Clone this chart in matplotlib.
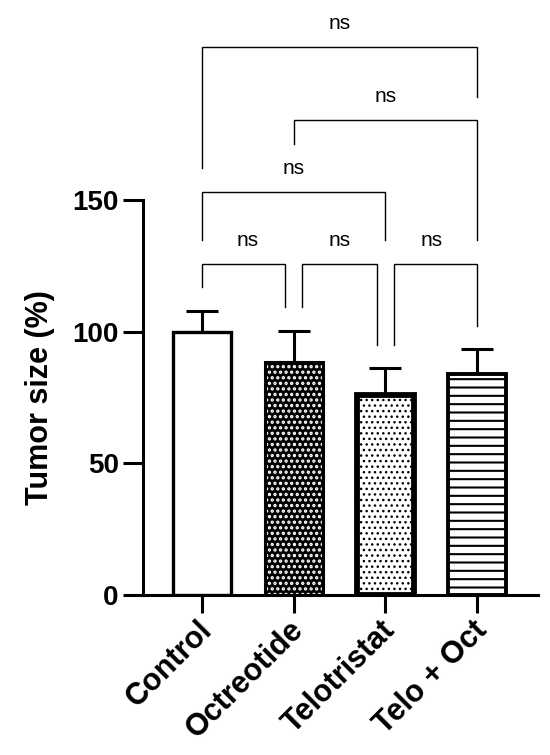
import matplotlib
matplotlib.use("Agg")
import matplotlib.pyplot as plt
from matplotlib.transforms import ScaledTranslation
import numpy as np

# ---- data ----
groups = ["Control", "Octreotide", "Telotristat", "Telo + Oct"]
means = [100.0, 88.5, 76.0, 84.0]
sems = [8.0, 11.8, 10.2, 9.4]
yticks = [0, 50, 100, 150]
ylabel = "Tumor size (%)"

# comparisons: (group i, group j, label)
comp_pairs = [(0, 3), (1, 3), (0, 2), (0, 1), (1, 2), (2, 3)]
comp_labels = ["ns", "ns", "ns", "ns", "ns", "ns"]

# ---- bracket layout (data units) ----
br_y = [208, 180.4, 153, 125.7, 125.7, 125.7]
br_left_end = [162, 171.3, 134.8, 117, 109.4, 95]
br_right_end = [189, 134.8, 134.8, 109.4, 95, 102]
br_left_shift = [0, 0, 0, 0, 0.09, 0.09]
br_right_shift = [0, 0, 0, -0.09, -0.09, 0]

# ---- styles ----
plt.rcParams["font.family"] = ["Liberation Sans", "DejaVu Sans"]
plt.rcParams["hatch.linewidth"] = 1.5
faces = ["white", "black", "white", "white"]
hatch_colors = ["black", "white", "black", "black"]
hatches = [None, "...", "...", "--"]
hatch_lw = [1.0, 1.6, 1.0, 1.5]
edge_lw = [2.4, 2.2, 4.2, 2.8]

fig = plt.figure(figsize=(5.5, 7.55), dpi=100)
ax = fig.add_axes([143 / 550, (755 - 595) / 755, (538 - 143) / 550, 590 / 755])

x = np.arange(len(groups))
width = 0.63

# hatched fills
for i in range(len(groups)):
    bc = ax.bar(x[i], means[i], width, color=faces[i], edgecolor=hatch_colors[i],
                hatch=hatches[i], linewidth=0, zorder=2)
    for p in bc.patches:
        if hasattr(p, "set_hatch_linewidth"):
            p.set_hatch_linewidth(hatch_lw[i])
    ax.bar(x[i], means[i], width, fill=False, edgecolor="black",
           linewidth=edge_lw[i], zorder=3)

# error bars (upper only)
ax.errorbar(x, means, yerr=[np.zeros(len(sems)), sems], fmt="none",
            ecolor="black", elinewidth=2.2, capsize=11.5, capthick=2.2, zorder=1)

# brackets
for k, (i, j) in enumerate(comp_pairs):
    xl = x[i] + br_left_shift[k]
    xr = x[j] + br_right_shift[k]
    ax.plot([xl, xl, xr, xr], [br_left_end[k], br_y[k], br_y[k], br_right_end[k]],
            color="black", lw=1.0, solid_joinstyle="miter", clip_on=False)
    ax.text((x[i] + x[j]) / 2, br_y[k] + 9.0, comp_labels[k], ha="center",
            va="center", fontsize=15)

ax.set_xlim(-0.643, 3.664)
ax.set_ylim(0, 224.1)

for s in ["top", "right"]:
    ax.spines[s].set_visible(False)
ax.spines["left"].set_bounds(0, 150)
ax.spines["left"].set_linewidth(2.2)
ax.spines["bottom"].set_linewidth(2.2)

ax.set_yticks(yticks)
ax.set_yticklabels([str(t) for t in yticks], fontsize=20, fontweight="bold")
ax.tick_params(axis="y", length=14.5, width=2.2, pad=3)
ax.tick_params(axis="x", length=13, width=2.2, pad=3)

ax.set_xticks(x)
ax.set_xticklabels(groups, fontsize=22, fontweight="bold", rotation=45,
                   ha="right", va="top", rotation_mode="anchor")
offset = ScaledTranslation(-0.05, 0.02, fig.dpi_scale_trans)
for lab in ax.get_xticklabels():
    lab.set_transform(lab.get_transform() + offset)

ax.set_ylabel(ylabel, fontsize=22, fontweight="bold")
ax.yaxis.set_label_coords(-0.223, 0.334)

fig.savefig("out.png", dpi=100)
